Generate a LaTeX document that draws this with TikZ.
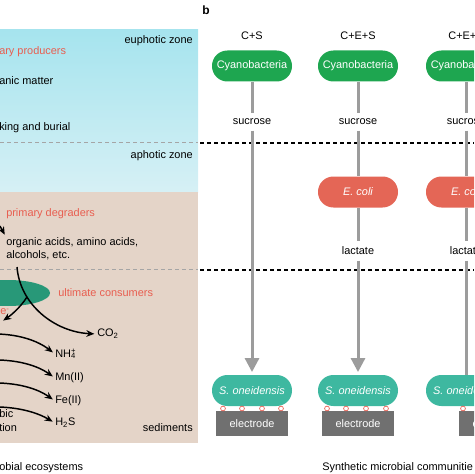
\documentclass[tikz,border=0pt]{standalone}
\usepackage{fontspec}
\setmainfont{Liberation Sans}
\usetikzlibrary{arrows.meta,positioning}

\definecolor{cyanogreen}{RGB}{30,166,80}
\definecolor{ecolired}{RGB}{228,102,86}
\definecolor{shewteal}{RGB}{62,184,160}
\definecolor{labelred}{RGB}{232,94,80}
\definecolor{tanbg}{RGB}{228,212,200}
\definecolor{bluetop}{RGB}{166,228,238}
\definecolor{bluebot}{RGB}{214,240,245}
\definecolor{flowgray}{RGB}{156,156,156}
\definecolor{electrodegray}{RGB}{112,112,112}
\definecolor{ellipsegreen}{RGB}{40,152,120}
\definecolor{zonegray}{RGB}{165,165,165}

\tikzset{
  txt/.style={font=\fontsize{8.2}{9.75}\selectfont, inner sep=0pt},
  redtxt/.style={txt, text=labelred},
  pill/.style={rounded corners=11.5pt, minimum width=60pt, minimum height=23.25pt, inner sep=0pt, text=white, font=\fontsize{8.2}{9.75}\selectfont},
  cyano/.style={pill, fill=cyanogreen},
  ecoli/.style={pill, fill=ecolired, font=\fontsize{8.2}{9.75}\selectfont\itshape},
  shew/.style={pill, fill=shewteal, font=\fontsize{8.2}{9.75}\selectfont\itshape},
  electrode/.style={fill=electrodegray, minimum width=54pt, minimum height=18.75pt, inner sep=0pt, text=white, font=\fontsize{8.2}{9.75}\selectfont},
  echarge/.style={circle, draw=labelred, fill=white, line width=0.5pt, minimum size=3.6pt, inner sep=0pt},
  flowline/.style={draw=flowgray, line width=2.25pt},
  flow/.style={flowline, -{Triangle[width=10.5pt,length=10.5pt]}, shorten >=2pt},
  flowlabel/.style={txt, inner sep=4pt},
  curve/.style={line width=1.1pt, -{Stealth[length=6pt,width=5pt]}, shorten >=2pt},
  zoneline/.style={draw=zonegray, line width=0.75pt, dash pattern=on 3pt off 2.25pt},
  sepline/.style={line width=0.9pt, dash pattern=on 3pt off 2.25pt},
}

\begin{document}
\begin{tikzpicture}[x=0.75pt,y=0.75pt,yscale=-1,xscale=1]
\useasboundingbox (0,0) rectangle (474,474);
\clip (0,0) rectangle (474,474);

% natural ecosystems background
\fill [top color=bluetop, bottom color=bluebot] (0,30) rectangle (198,192);
\fill [tanbg] (0,192) rectangle (198,443);
\draw [zoneline] (0,143) -- (198,143);
\draw [zoneline] (0,269) -- (198,269);

% Text Node
\node [txt, anchor=east] (euphotic) at (193,41) {euphotic zone};
\node [txt, anchor=east] (aphotic) at (193,156) {aphotic zone};
\node [txt, anchor=east] (sediments) at (193,428) {sediments};
\node [redtxt, anchor=west] (producers) at (-1,52) {ary producers};
\node [txt, anchor=west] (organic) at (-1,81) {anic matter};
\node [txt, anchor=west] (burial) at (-1,128) {king and burial};
\node [redtxt, anchor=west] (degraders) at (6,214) {primary degraders};
\node [txt, anchor=west, align=left] (acids) at (6,248.5) {organic acids, amino acids,\\alcohols, etc.};

% ultimate consumers
\fill [ellipsegreen] (8,293) ellipse [x radius=42, y radius=13];
\node [redtxt, anchor=west] (ultimate) at (58,293) {ultimate consumers};
\node [redtxt] (electron) at (5,312) {e\textsuperscript{-}};

% Text Node
\node [txt, anchor=west] (co2) at (97,334) {CO\textsubscript{2}};
\node [txt, anchor=west] (nh4) at (55,354) {NH\rlap{\textsuperscript{+}}\textsubscript{4}};
\node [txt, anchor=west] (mn) at (55,378) {Mn(II)};
\node [txt, anchor=west] (fe) at (55,401) {Fe(II)};
\node [txt, anchor=west] (h2s) at (55,423) {H\textsubscript{2}S};
\node [txt, anchor=west] (bic) at (-1,414) {bic};
\node [txt, anchor=west] (tion) at (-1,428) {tion};

% curved arrows
\coordinate (acidsin) at (-14,223);
\coordinate (acidsfoot) at (17,267);
\coordinate (branch) at (27,297);
\coordinate (eout) at (1,322);
\coordinate (nh4src) at (-12,334);
\coordinate (mnsrc) at (-12,360);
\coordinate (fesrc) at (-12,383);
\coordinate (h2ssrc) at (-12,407);
\draw [curve] (acidsin) .. controls (-1,224) .. (acids.north west);
\draw [curve] (acidsfoot) .. controls (20,305) and (55,332) .. (co2.west);
\draw [curve] (branch) .. controls (20,308) and (10,316) .. (eout);
\draw [curve] (nh4src) .. controls (18,333) and (38,341) .. (nh4.west);
\draw [curve] (mnsrc) .. controls (18,359) and (38,366) .. (mn.west);
\draw [curve] (fesrc) .. controls (18,382) and (38,389) .. (fe.west);
\draw [curve] (h2ssrc) .. controls (18,406) and (38,413) .. (h2s.west);

\node [txt, anchor=west] (capa) at (-1,468) {obial ecosystems};

% synthetic communities
\node [txt, font=\fontsize{9}{10}\selectfont\bfseries] (panelb) at (206,10) {b};
\draw [sepline] (200,143) -- (474,143);
\draw [sepline] (200,270) -- (474,270);

\node [txt] (cs) at (252,36) {C+S};
\node [txt] (ces) at (358,36) {C+E+S};
\node [txt] (cesb) at (466,36) {C+E+S};

\node [cyano] (cy1) at (252,66) {Cyanobacteria};
\node [cyano] (cy2) at (358,66) {Cyanobacteria};
\node [cyano] (cy3) at (466,66) {Cyanobacteria};

\node [flowlabel] (suc1) at (252,122) {sucrose};
\node [flowlabel] (suc2) at (358,122) {sucrose};
\node [flowlabel] (suc3) at (466,122) {sucrose};

\node [ecoli] (ec2) at (358,192) {E. coli};
\node [ecoli] (ec3) at (466,192) {E. coli};

\node [flowlabel] (lac2) at (358,251) {lactate};
\node [flowlabel] (lac3) at (466,251) {lactate};

\node [shew] (so1) at (252,390.5) {S. oneidensis};
\node [shew] (so2) at (358,390.5) {S. oneidensis};
\node [shew] (so3) at (466,390.5) {S. oneidensis};

%Straight Lines
\draw [flow] (cy1) -- (suc1) -- (so1);
\draw [flowline] (cy2) -- (suc2) -- (ec2);
\draw [flow] (ec2) -- (lac2) -- (so2);
\draw [flowline] (cy3) -- (suc3) -- (ec3) -- (lac3) -- (so3);

% electrodes
\node [electrode] (el1) at (252,423.5) {electrode};
\node [electrode] (el2) at (358,423.5) {electrode};
\node [electrode] (el3) at (495,423.5) {electrode};
\foreach \x in {223,242,262,281,327,346,366,386,463}
  \node [echarge] at (\x,408.5) {};

\node [txt, anchor=west] (capb) at (322,468) {Synthetic microbial communitie};

\end{tikzpicture}
\end{document}
